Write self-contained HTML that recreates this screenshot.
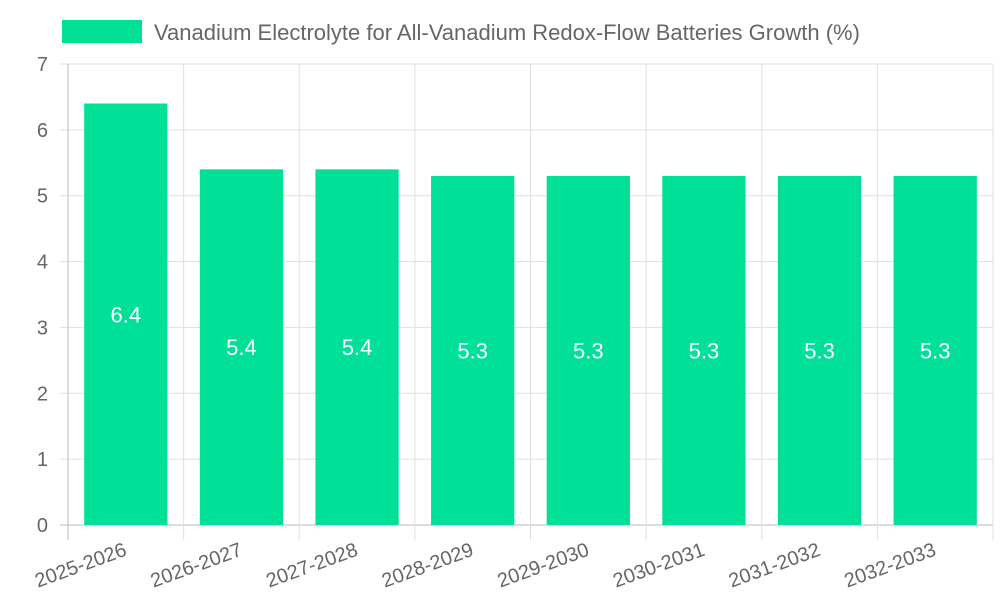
<!DOCTYPE html>
<html><head><meta charset="utf-8"><style>
body{margin:0;background:#fff;}
svg text{font-family:"Liberation Sans",sans-serif;}
</style></head><body>
<svg id="chart" width="1000" height="600">
<g id="grid"></g><g id="bars"></g><g id="labels"></g>
<rect x="62" y="20" width="80" height="23" fill="#00e096"/>
<text x="154" y="40" font-size="22" fill="#666">Vanadium Electrolyte for All-Vanadium Redox-Flow Batteries Growth (%)</text>
</svg>
<script>
const categories=["2025-2026","2026-2027","2027-2028","2028-2029","2029-2030","2030-2031","2031-2032","2032-2033"];
const values=[6.4,5.4,5.4,5.3,5.3,5.3,5.3,5.3];
const yTicks=[0,1,2,3,4,5,6,7];
const L=68,R=993,T=64,B=525,yMax=7;
const ns="http://www.w3.org/2000/svg";
const y=v=>B-(B-T)*v/yMax;
const cw=(R-L)/categories.length;
const x=i=>L+cw*i;
function mk(tag,attrs,parent,txt){const e=document.createElementNS(ns,tag);for(const k in attrs)e.setAttribute(k,attrs[k]);if(txt!==undefined)e.textContent=txt;document.getElementById(parent).appendChild(e);return e;}
yTicks.forEach(t=>{
 const l=mk("line",{x1:L-8,x2:R,y1:y(t),y2:y(t),stroke:t===0?"#bbb":"#e0e0e0","stroke-width":1},"grid");
 
 
 const tx=mk("text",{x:L-20,y:y(t)+7,"text-anchor":"end","font-size":20,fill:"#666"},"labels",String(t));
 
 
});
for(let i=0;i<=categories.length;i++){
 const l=mk("line",{x1:x(i),x2:x(i),y1:T,y2:B+15,stroke:i===0?"#bbb":"#e0e0e0","stroke-width":1},"grid");
 
 
}
categories.forEach((c,i)=>{
 const bw=cw*0.72,cx=x(i)+cw/2,v=values[i];
 const r=mk("rect",{x:cx-bw/2,y:y(v),width:bw,height:B-y(v),fill:"#00e096"},"bars");
 
 
 const vt=mk("text",{x:cx,y:(y(v)+B)/2+8,"text-anchor":"middle","font-size":22,fill:"#fff"},"labels",v.toFixed(1));
 
 
 const ct=mk("text",{x:cx+2,y:B+30,"text-anchor":"end","font-size":20,fill:"#666",transform:`rotate(-20 ${cx+2} ${B+30})`},"labels",c);
 
 
});
</script>
</body></html>
